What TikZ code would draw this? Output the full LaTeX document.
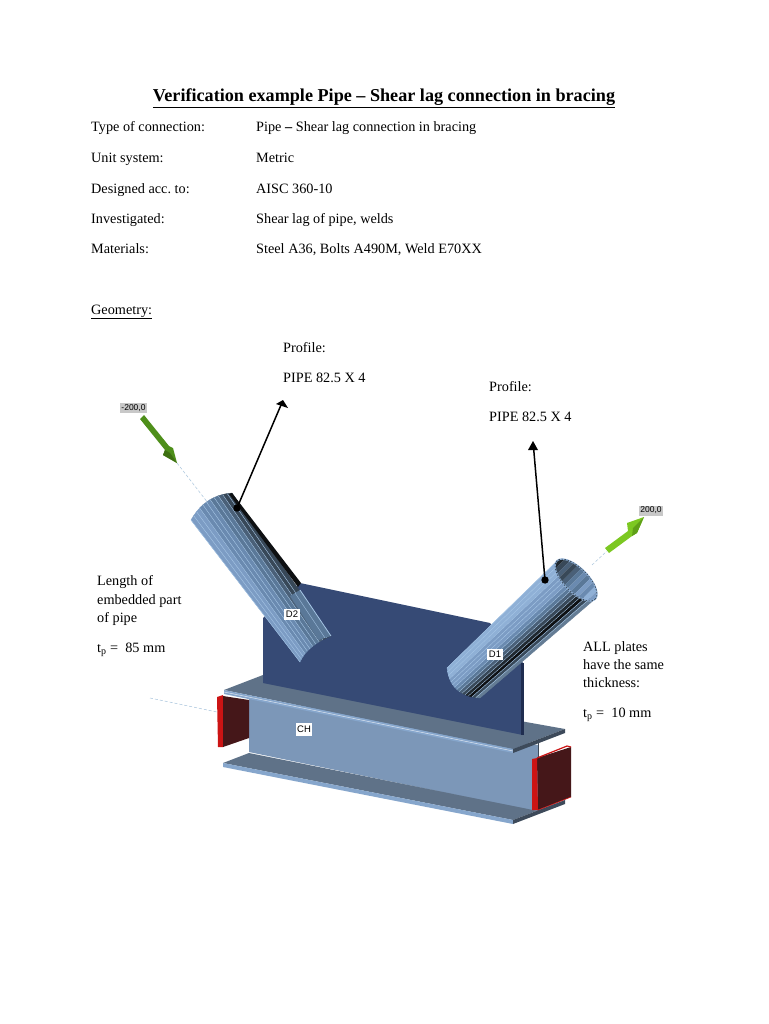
\documentclass[tikz,border=0pt]{standalone}
\usepackage{fontspec}
\setmainfont{Liberation Serif}
\newfontfamily\lblfont{Liberation Sans}
\frenchspacing
\definecolor{plateblue}{HTML}{364A75}
\definecolor{platedark}{HTML}{1F2D50}
\definecolor{flangetop}{HTML}{5F7288}
\definecolor{flangeedge}{HTML}{86A6CC}
\definecolor{flangeside}{HTML}{3D4A5A}
\definecolor{webblue}{HTML}{7C97B8}
\definecolor{redbright}{HTML}{CC1414}
\definecolor{reddark}{HTML}{451719}
\definecolor{greenA}{HTML}{4E8F1A}
\definecolor{greenAd}{HTML}{3E7012}
\definecolor{greenB}{HTML}{7CC822}
\definecolor{greenBd}{HTML}{5FA018}
\definecolor{sA}{HTML}{A6C6E6}
\definecolor{sB}{HTML}{8FB0D6}
\definecolor{sC}{HTML}{7C9CC4}
\definecolor{sD}{HTML}{6A8AB0}
\definecolor{sE}{HTML}{5A7898}
\definecolor{sF}{HTML}{4A6078}
\definecolor{sG}{HTML}{384858}
\definecolor{sH}{HTML}{20282F}
\definecolor{sI}{HTML}{0E1012}
\definecolor{sJ}{HTML}{647C94}
\definecolor{dashblue}{HTML}{A8C4DC}
\definecolor{greybox}{HTML}{C8C8C8}
\newcommand\qpt[4]{((1-#1)*(1-#1)*#2+2*#1*(1-#1)*#3+#1*#1*#4)}
\newcommand\pipestrips[3]{%
  \foreach \c [count=\i from 0] in {#2} {
    \pgfmathsetmacro\ta{\i/#1}
    \pgfmathsetmacro\tb{(\i+1)/#1}
    \fill[\c,draw=\c,line width=.3pt]
      ({\qpt{\ta}{\Ax}{\Qx}{\Bx}},{\qpt{\ta}{\Ay}{\Qy}{\By}}) --
      ({\qpt{\tb}{\Ax}{\Qx}{\Bx}},{\qpt{\tb}{\Ay}{\Qy}{\By}}) --
      ({\qpt{\tb}{\Cx}{\Rx}{\Dx}},{\qpt{\tb}{\Cy}{\Ry}{\Dy}}) --
      ({\qpt{\ta}{\Cx}{\Rx}{\Dx}},{\qpt{\ta}{\Cy}{\Ry}{\Dy}}) -- cycle;
    \draw[#3,line width=.4pt]
      ({\qpt{\ta}{\Ax}{\Qx}{\Bx}},{\qpt{\ta}{\Ay}{\Qy}{\By}}) --
      ({\qpt{\ta}{\Cx}{\Rx}{\Dx}},{\qpt{\ta}{\Cy}{\Ry}{\Dy}});
  }}
\begin{document}
\begin{tikzpicture}[x=1pt,y=-1pt,
  txt/.style={anchor=base west,inner sep=0pt,font=\fontsize{14.25}{16}\selectfont},
  tag/.style={fill=white,inner sep=0pt,minimum width=16pt,minimum height=11pt,font=\lblfont\fontsize{9.5}{10}\selectfont},
  loadtag/.style={fill=greybox,inner sep=0pt,minimum height=10pt,font=\lblfont\fontsize{8.5}{9}\selectfont},
  leader/.style={line width=1.5pt,black},
  faint/.style={dashblue,line width=.5pt,dashed,dash pattern=on 3pt off 2pt}]
\useasboundingbox (0,0) rectangle (768,1024);
\fill[white] (0,0) rectangle (768,1024);
% texts
\node[anchor=base,inner sep=0pt,font=\fontsize{18.15}{20}\selectfont\bfseries] (title) at (384,102) {\underline{Verification example Pipe – Shear lag connection in bracing}};
\node[txt] (a1) at (91,132) {Type of connection:};
\node[txt] (b1) at (256,132) {Pipe \textbf{–} Shear lag connection in bracing};
\node[txt] (a2) at (91,163) {Unit system:};
\node[txt] (b2) at (256,163) {Metric};
\node[txt] (a3) at (91,194) {Designed acc. to:};
\node[txt] (b3) at (256,194) {AISC 360-10};
\node[txt] (a4) at (91,224) {Investigated:};
\node[txt] (b4) at (256,224) {Shear lag of pipe, welds};
\node[txt] (a5) at (91,253) {Materials:};
\node[txt] (b5) at (256,253) {Steel A36, Bolts A490M, Weld E70XX};
\node[txt] (geo) at (91,314) {\underline{Geometry:}};
\node[txt] (p1) at (283,352) {Profile:};
\node[txt] (p2) at (283,382) {PIPE 82.5 X 4};
\node[txt] (q1) at (489,391) {Profile:};
\node[txt] (q2) at (489,421) {PIPE 82.5 X 4};
\node[txt] (l1) at (97,585) {Length of};
\node[txt] (l2) at (97,604) {embedded part};
\node[txt] (l3) at (97,622) {of pipe};
\node[txt] (l4) at (97,652) {t\textsubscript{p} =\ \ 85 mm};
\node[txt] (r1) at (583,651) {ALL plates};
\node[txt] (r2) at (583,669) {have the same};
\node[txt] (r3) at (583,687) {thickness:};
\node[txt] (r4) at (583,717) {t\textsubscript{p} =\ \ 10 mm};
% beam
\draw[faint] (150,698) -- (217,712);
\fill[webblue] (249,697) -- (538,745) -- (538,812) -- (249,752) -- cycle;
\fill[flangetop] (223,763) -- (249,753) -- (538,811) -- (565,800) -- (513,820) -- cycle;
\fill[flangeedge] (223,763) -- (513,820) -- (513,824) -- (223,767) -- cycle;
\fill[flangeside] (513,820) -- (565,800) -- (565,804) -- (513,824) -- cycle;
\draw[flangeside,line width=.6pt] (538,735) -- (538,760);
\fill[flangetop] (224,690) -- (263,675) -- (565,729) -- (513,749) -- cycle;
\fill[flangeedge] (224,690) -- (513,749) -- (513,753) -- (224,694) -- cycle;
\draw[white!70!flangeedge,line width=.5pt] (224,692) -- (513,751);
\fill[flangeside] (513,749) -- (565,729) -- (565,733) -- (513,753) -- cycle;
% end plates
\fill[redbright] (217,697) -- (223,695) -- (223,747) -- (218,747) -- cycle;
\fill[reddark] (223,696) -- (249,700) -- (249,738) -- (223,747) -- cycle;
\fill[reddark] (537,758) -- (571,747) -- (571,797) -- (538,810) -- cycle;
\fill[redbright] (532,759) -- (537,758) -- (538,810) -- (532,810) -- cycle;
\draw[redbright,line width=1.2pt] (537,758) -- (567,746) -- (571,747);
\draw[redbright,line width=.6pt] (538,810) -- (571,797);
% gusset plate
\fill[plateblue] (263,618) -- (300,583) -- (490,623) -- (523,663) -- (523,735) -- (263,683) -- cycle;
\fill[platedark] (521,663) -- (524,663) -- (524,735) -- (521,735) -- cycle;
% pipe D2
\def\Ax{191}\def\Ay{520}\def\Qx{205}\def\Qy{495}\def\Bx{232}\def\By{493}
\def\Cx{300}\def\Cy{662}\def\Rx{307}\def\Ry{646}\def\Dx{331}\def\Dy{636}
\pipestrips{11}{sC,sC,sC,sD,sD,sD,sE,sE,sF,sG,sG}{sA}
% lower, lit part of the dark strips of D2
\fill[sE] (300,590) -- (331,636) -- (318.5,640) -- (290,596) -- cycle;
\draw[sA,line width=.4pt] (295,593) -- (325,638);
\fill[sI] (232,493) -- (301,583) -- (298,587) -- (229,494) -- cycle;
\draw[sA,line width=.8pt] (300,590) -- (331,636);
% pipe D1
\def\Ax{447}\def\Ay{668}\def\Qx{450}\def\Qy{696}\def\Bx{480}\def\By{698}
\def\Cx{557}\def\Cy{561}\def\Rx{559}\def\Ry{597}\def\Dx{595}\def\Dy{599}
\pipestrips{14}{sB,sB,sB,sC,sC,sC,sD,sE,sF,sG,sH,sI,sG,sJ}{sA}
% open end of D1
\begin{scope}
  \clip plot[domain=0:360,samples=72,smooth] ({576+27*.707*cos(\x)+12*.707*sin(\x)},{580+27*.707*cos(\x)-12*.707*sin(\x)}) -- cycle;
  \foreach \c [count=\i from 0] in {sH,sG,sF,sG,sF,sE,sD,sE,sC,sD,sB,sC} {
    \pgfmathsetmacro\sa{-27+\i*4.5}
    \pgfmathsetmacro\sb{-27+(\i+1)*4.5}
    \fill[\c] ({576+\sa*.707-40*.707},{580+\sa*.707+40*.707}) -- ({576+\sa*.707+40*.707},{580+\sa*.707-40*.707}) -- ({576+\sb*.707+40*.707},{580+\sb*.707-40*.707}) -- ({576+\sb*.707-40*.707},{580+\sb*.707+40*.707}) -- cycle;
  }
\end{scope}
\draw[sB,line width=1.4pt] plot[domain=0:360,samples=72,smooth] ({576+27*.707*cos(\x)+12*.707*sin(\x)},{580+27*.707*cos(\x)-12*.707*sin(\x)}) -- cycle;
\draw[sG,line width=.7pt,dash pattern=on 1.5pt off 1.5pt] plot[domain=0:360,samples=72,smooth] ({576+27*.707*cos(\x)+12*.707*sin(\x)},{580+27*.707*cos(\x)-12*.707*sin(\x)}) -- cycle;
% load arrows
\coordinate (lh) at (177,463);
\coordinate (rt) at (607,551);
\draw[faint] (lh) -- (208,503);
\draw[faint] (592,565) -- (rt);
\fill[greenA] (140,419) -- (144,415) -- (169,446) -- (173,448) -- (lh) -- (163,455) -- (165,450) -- cycle;
\fill[greenAd] (lh) -- (163,455) -- (165,450) -- (170,453) -- cycle;
\fill[greenB] (605,548) -- (609,553) -- (632,536) -- (637,533) -- (644,517) -- (627,523) -- (628,531) -- cycle;
\fill[greenBd] (644,517) -- (637,533) -- (632,536) -- (633,528) -- cycle;
% tags
\node[loadtag,minimum width=27pt] (t1) at (133.5,408) {-200,0};
\node[loadtag,minimum width=24pt] (t2) at (651,510.5) {200,0};
\node[tag] (d2) at (292,614) {D2};
\node[tag] (d1) at (495,654) {D1};
\node[tag,minimum height=13pt] (ch) at (304,729.5) {CH};
% leaders
\coordinate (u1) at (237,508);
\coordinate (v1) at (283,400);
\coordinate (u2) at (545,580);
\coordinate (v2) at (533,441);
\draw[leader] (u1) -- (281,405);
\draw[leader] (u2) -- (533.5,447);
\fill (u1) circle (3.7pt);
\fill (u2) circle (3.7pt);
\fill (v1) -- (288,408) -- (276,404) -- cycle;
\fill (v2) -- (538,450) -- (528,450) -- cycle;
\end{tikzpicture}
\end{document}
